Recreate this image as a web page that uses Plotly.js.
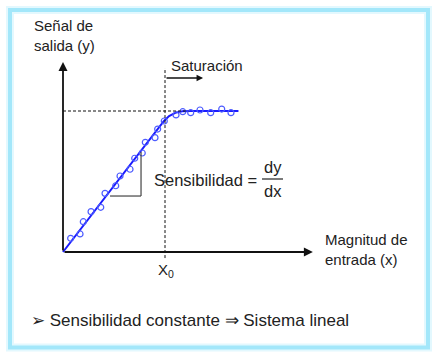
<!DOCTYPE html>
<html><head><meta charset="utf-8">
<script src="https://cdn.plot.ly/plotly-3.0.1.min.js"></script>
<style>html,body{margin:0;padding:0;background:#fff}#chart{width:438px;height:357px}</style>
</head><body><div id="chart"></div>
<script>
// measured samples (input magnitude, output signal)
const inputX  = [0.75,1.67,1.99,2.75,3.70,4.12,5.17,5.59,6.57,7.03,7.77,8.07,9.02,9.28,9.93,11.08,11.74,12.52,13.43,14.48,15.56,16.47];
const outputY = [0.97,1.28,2.15,2.86,3.17,4.16,4.70,5.39,5.87,6.65,7.02,7.78,8.11,8.72,9.29,9.72,9.95,9.88,10.07,9.88,10.14,9.88];
// characteristic curve
const fitX = [0, 9.9, 10.4, 11.0, 11.7, 12.5, 17.2];
const fitY = [0, 9.29, 9.64, 9.87, 9.98, 10.0, 10.0];
// reference values
const X0 = 10, Ysat = 10;
const xAxisEnd = 24.5, yAxisEnd = 13.48;
const satArrowEnd = 13.73, satArrowY = 12.34;
const triX = [4.61, 7.65], triY = [3.97, 7.1];
// labels
const yTitle = 'Señal de<br>salida (y)';
const xTitle = 'Magnitud de<br>entrada (x)';
const satLabel = 'Saturación';
const sensLabel = 'Sensibilidad =';
const fracNum = 'dy', fracDen = 'dx';
const x0Label = 'X<sub>0</sub>';
const bottomLabel = '➢ Sensibilidad constante ⇒ Sistema lineal';

const W = 438, H = 357;
const px = v => v / W, py = v => 1 - v / H;
const FONT = '"Liberation Sans", Arial, sans-serif';
const txt = '#222';

const traces = [
  {x: fitX, y: fitY, mode: 'lines', line: {color: '#1a1aff', width: 2}, hoverinfo: 'skip'},
  {x: inputX, y: outputY, mode: 'markers',
   marker: {symbol: 'circle-open', size: 6, color: '#4d5cff', line: {width: 1.2, color: '#4d5cff'}}}
];

const shapes = [
  // frame glow + frame
  {type: 'rect', xref: 'paper', yref: 'paper', x0: px(10), x1: px(428), y0: py(10), y1: py(347.5), line: {color: '#e3f8fe', width: 8}, layer: 'below'},
  {type: 'rect', xref: 'paper', yref: 'paper', x0: px(10), x1: px(428), y0: py(10), y1: py(347.5), line: {color: '#a3e7fa', width: 4}, layer: 'below'},
  // dashed guides
  {type: 'line', x0: X0, x1: X0, y0: -0.43, y1: 13.05, line: {color: '#111', width: 1, dash: '3px,2px'}},
  {type: 'line', x0: 0, x1: 12.3, y0: Ysat, y1: Ysat, line: {color: '#111', width: 1, dash: '3px,2px'}},
  // slope triangle
  {type: 'line', x0: triX[0], x1: triX[1], y0: triY[0], y1: triY[0], line: {color: '#444', width: 1.2}},
  {type: 'line', x0: triX[1], x1: triX[1], y0: triY[0], y1: triY[1], line: {color: '#444', width: 1.2}},
  // fraction bar
  {type: 'line', xref: 'paper', yref: 'paper', x0: px(262), x1: px(283), y0: py(179), y1: py(179), line: {color: txt, width: 1.2}}
];

const ann = (text, x, y, xa, size, extra) => Object.assign({
  xref: 'paper', yref: 'paper', x: px(x), y: py(y), text: text, showarrow: false,
  xanchor: xa, yanchor: 'middle', align: 'left', font: {family: FONT, size: size, color: txt}
}, extra || {});

const annotations = [
  // axes arrows
  {x: 0, y: yAxisEnd, ax: 0, ay: 0, axref: 'x', ayref: 'y', xref: 'x', yref: 'y', text: '', showarrow: true,
   arrowhead: 2, arrowsize: 1, arrowwidth: 1.8, arrowcolor: '#111'},
  {x: xAxisEnd, y: 0, ax: 0, ay: 0, axref: 'x', ayref: 'y', xref: 'x', yref: 'y', text: '', showarrow: true,
   arrowhead: 2, arrowsize: 1, arrowwidth: 1.8, arrowcolor: '#111'},
  {x: satArrowEnd, y: satArrowY, ax: X0, ay: satArrowY, axref: 'x', ayref: 'y', xref: 'x', yref: 'y', text: '', showarrow: true,
   arrowhead: 2, arrowsize: 1, arrowwidth: 1.3, arrowcolor: '#111'},
  ann(yTitle, 32, 36, 'left', 15),
  ann(satLabel, 169, 65, 'left', 15),
  ann(sensLabel, 152, 180, 'left', 16.5),
  ann(fracNum, 272.5, 167, 'center', 16.5),
  ann(fracDen, 272.5, 191, 'center', 16.5),
  ann(xTitle, 323, 249, 'left', 15),
  ann(x0Label, 166, 270, 'center', 15),
  ann(bottomLabel, 29, 320, 'left', 17)
];

const layout = {
  width: W, height: H, margin: {l: 0, r: 0, t: 0, b: 0},
  paper_bgcolor: '#fff', plot_bgcolor: '#fff', showlegend: false,
  xaxis: {range: [-63/10.2, 375/10.2], visible: false, fixedrange: true},
  yaxis: {range: [-105/14.1, 252/14.1], visible: false, fixedrange: true},
  shapes: shapes, annotations: annotations
};
Plotly.newPlot('chart', traces, layout, {staticPlot: true});
</script></body></html>
